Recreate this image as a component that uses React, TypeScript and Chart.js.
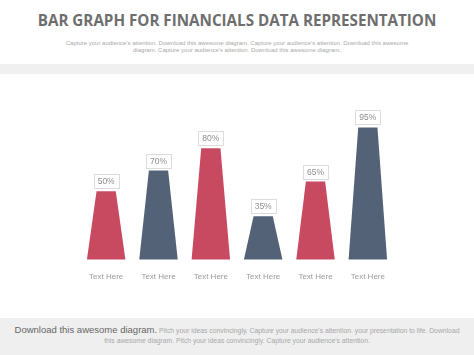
import React, { useEffect, useRef } from "react";
import { Chart, registerables } from "chart.js";

Chart.register(...registerables);

const categories = ["Text Here", "Text Here", "Text Here", "Text Here", "Text Here", "Text Here"];
const barHeights = [49, 64, 80, 31, 56, 95];
const valueLabels = ["50%", "70%", "80%", "35%", "65%", "95%"];
const barColors = ["#c84a61", "#536277", "#c84a61", "#536277", "#c84a61", "#536277"];

const TOP_RATIO = 0.5;

const trapezoidPlugin = {
  id: "trapezoids",
  afterDatasetsDraw(chart: any) {
    const meta = chart.getDatasetMeta(0);
    const ctx = chart.ctx;
    ctx.save();
    meta.data.forEach((el: any, i: number) => {
      const { x, y, base, width } = el.getProps(["x", "y", "base", "width"], true);
      const bw = width / 2;
      const tw = (width * TOP_RATIO) / 2;
      ctx.fillStyle = barColors[i];
      ctx.beginPath();
      ctx.moveTo(x - bw, base);
      ctx.lineTo(x - tw, y);
      ctx.lineTo(x + tw, y);
      ctx.lineTo(x + bw, base);
      ctx.closePath();
      ctx.fill();
      // label box
      const boxW = 25;
      const boxH = 14;
      const bx = Math.round(x - boxW / 2) + 0.5;
      const by = Math.round(y - 3 - boxH) + 0.5;
      ctx.fillStyle = "#ffffff";
      ctx.fillRect(bx, by, boxW, boxH);
      ctx.strokeStyle = "#dcdcdc";
      ctx.lineWidth = 1;
      ctx.strokeRect(bx, by, boxW, boxH);
      ctx.fillStyle = "#8e8e8e";
      ctx.font = "8.5px 'Liberation Sans', Arial, sans-serif";
      ctx.textAlign = "center";
      ctx.textBaseline = "middle";
      ctx.fillText(valueLabels[i], x, by + boxH / 2 + 0.5);
    });
    ctx.restore();
  },
};

function BarChart() {
  const ref = useRef<HTMLCanvasElement>(null);
  useEffect(() => {
    if (!ref.current) return;
    const chart = new Chart(ref.current, {
      type: "bar",
      data: {
        labels: categories,
        datasets: [
          {
            data: barHeights,
            backgroundColor: "rgba(0,0,0,0)",
            borderWidth: 0,
            barPercentage: 0.735,
            categoryPercentage: 1,
          },
        ],
      },
      options: {
        responsive: false,
        animation: false,
        layout: { padding: { left: 80, right: 80, top: 46.5, bottom: 24 } },
        plugins: { legend: { display: false }, tooltip: { enabled: false } },
        scales: {
          x: {
            grid: { display: false, drawTicks: false },
            border: { display: false },
            ticks: {
              color: "#9a9a9a",
              padding: 12.5,
              font: { family: "'Liberation Sans', Arial, sans-serif", size: 8 },
            },
          },
          y: {
            display: false,
            min: 0,
            max: 100,
          },
        },
      },
      plugins: [trapezoidPlugin],
    });
    return () => chart.destroy();
  }, []);
  return (
    <canvas
      ref={ref}
      width={474}
      height={244}
      style={{ position: "absolute", left: 0, top: 74, width: 474, height: 244 }}
    />
  );
}

export default function App() {
  return (
    <div style={{ position: "relative", width: 474, height: 355, background: "#fff", overflow: "hidden" }}>
      <style>{"body{margin:0}"}</style>
      <div
        style={{
          position: "absolute",
          top: 9,
          left: 0,
          width: 474,
          textAlign: "center",
          fontFamily: "'Open Sans', sans-serif",
          fontWeight: 700,
          fontSize: 15.2,
          color: "#6e6e6e",
          lineHeight: "22px",
        }}
      >
        BAR GRAPH FOR FINANCIALS DATA REPRESENTATION
      </div>
      <div
        style={{
          position: "absolute",
          top: 40,
          left: 0,
          width: 474,
          textAlign: "center",
          fontFamily: "'Liberation Sans', Arial, sans-serif",
          fontSize: 6,
          color: "#a8a8a8",
          lineHeight: "7px",
        }}
      >
        Capture your audience's attention. Download this awesome diagram. Capture your audience's attention. Download this awesome
        <br />
        diagram. Capture your audience's attention. Download this awesome diagram.
      </div>
      <div style={{ position: "absolute", top: 64, left: 0, width: 474, height: 10, background: "#f0f0f0" }} />
      <BarChart />
      <div
        style={{
          position: "absolute",
          top: 318,
          left: 0,
          width: 474,
          height: 37,
          background: "#efefef",
        }}
      >
        <div
          style={{
            position: "absolute",
            top: 7,
            left: 0,
            width: 474,
            textAlign: "center",
            fontFamily: "'Liberation Sans', Arial, sans-serif",
            fontSize: 6.8,
            color: "#a8a8a8",
            lineHeight: "10px",
          }}
        >
          <span style={{ fontSize: 9.5, color: "#666" }}>Download this awesome diagram.</span> Pitch your ideas convincingly. Capture your audience's attention. your presentation to life. Download
          <br />
          this awesome diagram. Pitch your ideas convincingly. Capture your audience's attention.
        </div>
      </div>
    </div>
  );
}
